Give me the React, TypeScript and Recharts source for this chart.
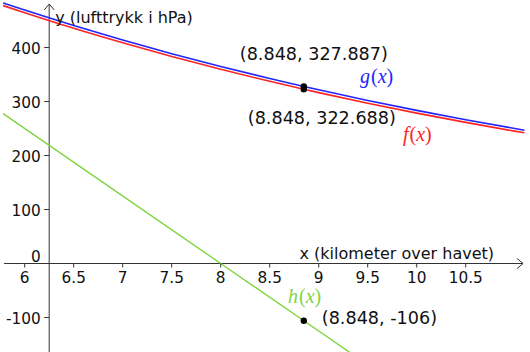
import React from 'react';
import { LineChart, Line, XAxis, YAxis, ReferenceLine, ReferenceDot } from 'recharts';

// ---- data ----
const curveX = [5.78, 6, 6.5, 7, 7.5, 8, 8.5, 8.848, 9, 9.5, 10, 10.5, 11, 11.1];
const fValues = [477.6, 464.4, 435.6, 408.7, 383.4, 359.6, 337.4, 322.7, 316.5, 296.9, 278.5, 261.3, 245.1, 242.0];
const gValues = [482.6, 469.4, 440.8, 413.9, 388.6, 364.9, 342.6, 327.9, 321.7, 302.0, 283.6, 266.3, 250.0, 246.9];
const hX = [5.78, 8, 8.848, 9.35];
const hValues = [277.5, 0, -106, -168.8];

const xTicks = [6, 6.5, 7, 7.5, 8, 8.5, 9, 9.5, 10, 10.5];
const xTickLabels = ['6', '6.5', '7', '7.5', '8', '8.5', '9', '9.5', '10', '10.5'];
const yTicks = [-100, 0, 100, 200, 300, 400];
const yTickLabels = ['-100', '0', '100', '200', '300', '400'];

const pointX = [8.848, 8.848, 8.848];
const pointY = [327.887, 322.688, -106];
const pointLabels = ['(8.848, 327.887)', '(8.848, 322.688)', '(8.848, -106)'];

const xAxisTitle = 'x (kilometer over havet)';
const yAxisTitle = 'y (lufttrykk i hPa)';
const curveNames = ['g', 'f', 'h'];
// anchor positions (data coords) for the curve name labels
const curveLabelX = [9.421, 9.86, 8.687];
const curveLabelY = [334.3, 226.9, -73.5];

const fData = curveX.map((x, i) => ({ x, y: fValues[i] }));
const gData = curveX.map((x, i) => ({ x, y: gValues[i] }));
const hData = hX.map((x, i) => ({ x, y: hValues[i] }));

// ---- styling ----
const X_DOMAIN: [number, number] = [5.748, 11.156];
const Y_DOMAIN: [number, number] = [-163.9, 488];
const Y_AXIS_AT = 6.25;
const X_AXIS_START = 5.79;
const X_AXIS_END = 11.085;
const Y_AXIS_END = 480.6;
const AXIS = '#333333';
const TEXT = '#111111';
const SANS = 'DejaVu Sans';
const SERIF = 'Liberation Serif';
const BLUE = '#2323ff';
const RED = '#ff2323';
const GREEN = '#7fd43f';
const curveColors = [BLUE, RED, GREEN];

const XTickShape = (label: string) => (p: any) => (
  <g>
    <line x1={p.cx} y1={p.cy} x2={p.cx} y2={p.cy + 4} stroke={AXIS} strokeWidth={1} />
    <text x={p.cx} y={p.cy + 19.8} textAnchor="middle" fontFamily={SANS} fontSize={15.3} fill={TEXT}>
      {label}
    </text>
  </g>
);

const YTickShape = (label: string, isZero: boolean) => (p: any) => (
  <g>
    {!isZero && <line x1={p.cx - 5} y1={p.cy} x2={p.cx} y2={p.cy} stroke={AXIS} strokeWidth={1} />}
    <text x={p.cx - 8.5} y={isZero ? p.cy - 1.8 : p.cy + 6.3} textAnchor="end" fontFamily={SANS} fontSize={15.3} fill={TEXT}>
      {label}
    </text>
  </g>
);

const XArrowShape = (p: any) => (
  <g>
    <polyline points={`${p.cx - 6},${p.cy - 5} ${p.cx},${p.cy} ${p.cx - 6},${p.cy + 5}`} fill="none" stroke={AXIS} strokeWidth={1} />
    <text x={p.cx - 29} y={p.cy - 5} textAnchor="end" fontFamily={SANS} fontSize={16} fill={TEXT}>
      {xAxisTitle}
    </text>
  </g>
);

const YArrowShape = (p: any) => (
  <g>
    <polyline points={`${p.cx - 5},${p.cy + 6} ${p.cx},${p.cy} ${p.cx + 5},${p.cy + 6}`} fill="none" stroke={AXIS} strokeWidth={1} />
    <text x={p.cx + 6} y={p.cy + 19} textAnchor="start" fontFamily={SANS} fontSize={16} fill={TEXT}>
      {yAxisTitle}
    </text>
  </g>
);

const pointLabelOffsets = [
  { dx: -64, dy: -26 },
  { dx: -56, dy: 35 },
  { dx: 18, dy: 3.5 },
];

const PointShape = (i: number) => (p: any) => (
  <g>
    <circle cx={p.cx} cy={p.cy} r={3.2} fill="#000" />
    <text x={p.cx + pointLabelOffsets[i].dx} y={p.cy + pointLabelOffsets[i].dy} textAnchor="start" fontFamily={SANS} fontSize={17.6} fill={TEXT}>
      {pointLabels[i]}
    </text>
  </g>
);

const CurveLabelShape = (i: number) => (p: any) => (
  <text x={p.cx} y={p.cy} textAnchor="start" fontFamily={SERIF} fontSize={20} fill={curveColors[i]}>
    <tspan fontStyle="italic">{curveNames[i]}</tspan>
    <tspan dx={1}>(</tspan>
    <tspan fontStyle="italic">x</tspan>
    <tspan>)</tspan>
  </text>
);

export default function App() {
  return (
    <div style={{ position: 'absolute', left: 0, top: 0, width: 530, height: 352, background: '#fff' }}>
      <LineChart width={530} height={352} margin={{ top: 0, right: 0, bottom: 0, left: 0 }}>
        <XAxis type="number" dataKey="x" domain={X_DOMAIN} hide allowDataOverflow />
        <YAxis type="number" dataKey="y" domain={Y_DOMAIN} hide allowDataOverflow />

        <ReferenceLine segment={[{ x: X_AXIS_START, y: 0 }, { x: X_AXIS_END, y: 0 }]} stroke={AXIS} strokeWidth={1} />
        <ReferenceLine segment={[{ x: Y_AXIS_AT, y: Y_DOMAIN[0] }, { x: Y_AXIS_AT, y: Y_AXIS_END }]} stroke={AXIS} strokeWidth={1} />

        {xTicks.map((t, i) => (
          <ReferenceDot key={'xt' + i} x={t} y={0} r={0} shape={XTickShape(xTickLabels[i])} />
        ))}
        {yTicks.map((t, i) => (
          <ReferenceDot key={'yt' + i} x={Y_AXIS_AT} y={t} r={0} shape={YTickShape(yTickLabels[i], t === 0)} />
        ))}
        <ReferenceDot x={X_AXIS_END} y={0} r={0} shape={XArrowShape} />
        <ReferenceDot x={Y_AXIS_AT} y={Y_AXIS_END} r={0} shape={YArrowShape} />

        <Line data={hData} dataKey="y" type="linear" stroke={GREEN} strokeWidth={1.4} dot={false} activeDot={false} isAnimationActive={false} />
        <Line data={fData} dataKey="y" type="monotone" stroke={RED} strokeWidth={1.6} dot={false} activeDot={false} isAnimationActive={false} />
        <Line data={gData} dataKey="y" type="monotone" stroke={BLUE} strokeWidth={1.6} dot={false} activeDot={false} isAnimationActive={false} />

        {curveNames.map((n, i) => (
          <ReferenceDot key={'cl' + n} x={curveLabelX[i]} y={curveLabelY[i]} r={0} shape={CurveLabelShape(i)} />
        ))}
        {pointX.map((x, i) => (
          <ReferenceDot key={'pt' + i} x={x} y={pointY[i]} r={0} shape={PointShape(i)} />
        ))}
      </LineChart>
    </div>
  );
}
